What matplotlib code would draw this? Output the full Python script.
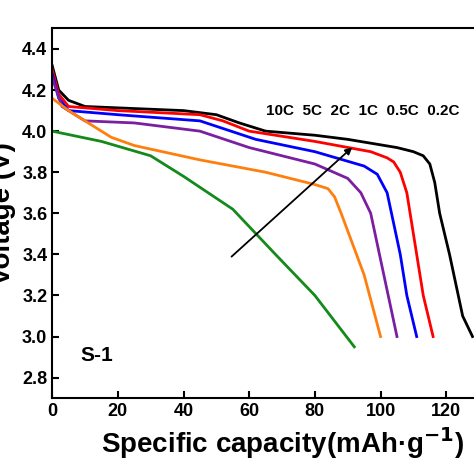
import matplotlib
matplotlib.use("Agg")
import matplotlib.pyplot as plt

plt.rcParams['font.family'] = ['Liberation Sans', 'DejaVu Sans']
plt.rcParams['font.weight'] = 'bold'

cap_02 = [0, 2, 5, 10, 25, 40, 50, 57, 65, 80, 90, 105, 110, 113, 115, 116.5, 118, 121, 123, 125, 128]
v_02 = [4.32, 4.2, 4.15, 4.12, 4.11, 4.10, 4.08, 4.04, 4.0, 3.98, 3.96, 3.92, 3.9, 3.88, 3.84, 3.75, 3.6, 3.4, 3.25, 3.1, 3.0]
cap_05 = [0, 2, 5, 20, 45, 52, 60, 80, 97, 102, 104, 106, 108, 111, 113, 116]
v_05 = [4.30, 4.18, 4.12, 4.10, 4.08, 4.05, 4.0, 3.95, 3.90, 3.87, 3.85, 3.8, 3.7, 3.4, 3.2, 3.0]
cap_1 = [0, 2, 5, 20, 45, 62, 80, 95, 99, 102, 106, 108, 111]
v_1 = [4.28, 4.16, 4.10, 4.08, 4.05, 3.96, 3.90, 3.83, 3.79, 3.7, 3.4, 3.2, 3.0]
cap_2 = [0, 3, 10, 25, 45, 60, 80, 90, 94, 97, 101, 103, 105]
v_2 = [4.26, 4.12, 4.05, 4.04, 4.0, 3.92, 3.84, 3.77, 3.7, 3.6, 3.3, 3.15, 3.0]
cap_5 = [0, 5, 10, 18, 25, 45, 65, 80, 84, 86, 88, 95, 100]
v_5 = [4.16, 4.1, 4.05, 3.97, 3.93, 3.86, 3.80, 3.74, 3.72, 3.68, 3.6, 3.3, 3.0]
cap_10 = [0, 15, 30, 40, 55, 68, 80, 92]
v_10 = [4.00, 3.95, 3.88, 3.78, 3.62, 3.4, 3.2, 2.95]

series = [(cap_02, v_02, 'black'), (cap_05, v_05, 'red'), (cap_1, v_1, 'blue'),
          (cap_2, v_2, '#7a1fa2'), (cap_5, v_5, '#ff7f0e'), (cap_10, v_10, '#138a1a')]

fig = plt.figure(figsize=(4.74, 4.74), dpi=100)
ax = fig.add_axes([0.11, 0.16, 0.97, 0.78])
for c, v, col in series:
    ax.plot(c, v, color=col, lw=2)
ax.set_xlim(0, 140)
ax.set_ylim(2.7, 4.5)
ax.set_xticks(range(0, 141, 20))
ax.set_yticks([2.8, 3.0, 3.2, 3.4, 3.6, 3.8, 4.0, 4.2, 4.4])
ax.tick_params(direction='in', labelsize=13, width=1.5, length=5)
for s in ax.spines.values():
    s.set_linewidth(1.5)
ax.set_xlabel('Specific capacity(mAh·g$^{-1}$)', fontsize=20, fontweight='bold')
ax.set_ylabel('Voltage (V)', fontsize=20, fontweight='bold')
ax.text(65, 4.08, '10C  5C  2C  1C  0.5C  0.2C', fontsize=11, fontweight='bold')
ax.annotate('', xy=(92, 3.93), xytext=(54, 3.38),
            arrowprops=dict(arrowstyle='-|>', color='black', lw=1.3))
ax.text(8.5, 2.88, 'S-1', fontsize=15, fontweight='bold')
fig.savefig('out.png', dpi=100)
